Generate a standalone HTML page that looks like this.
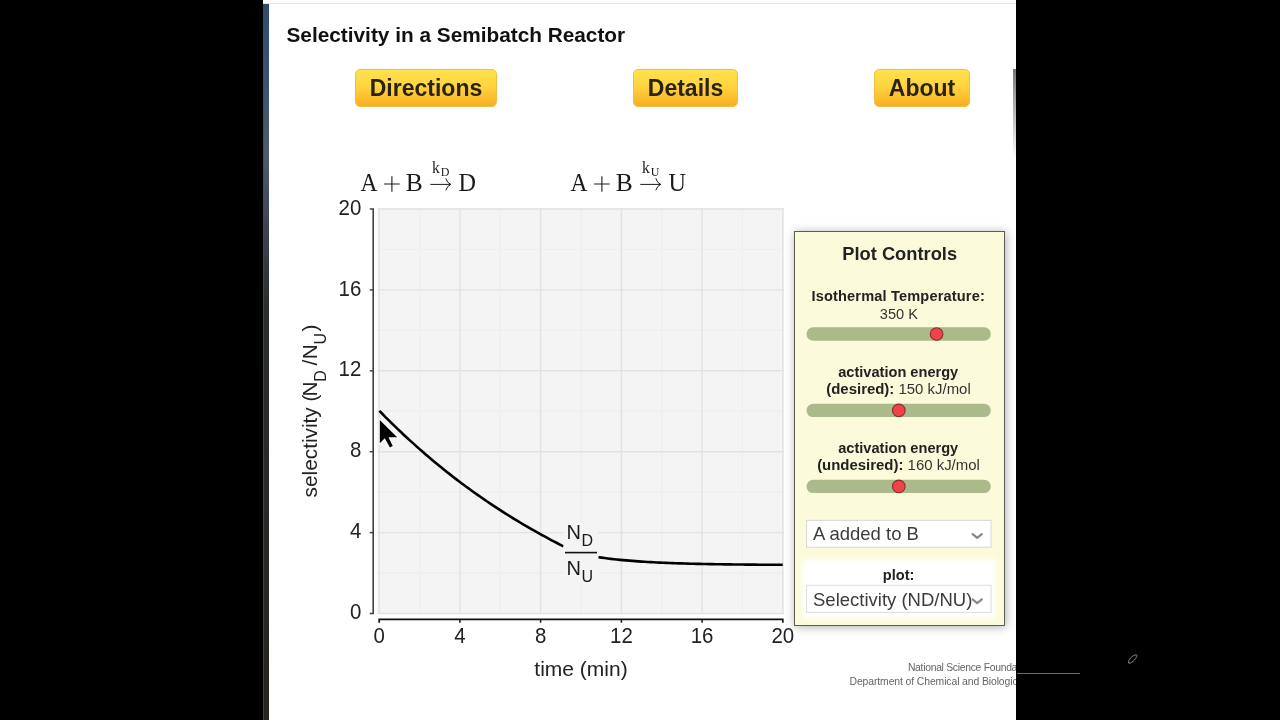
<!DOCTYPE html>
<html>
<head>
<meta charset="utf-8">
<style>
html,body{margin:0;padding:0;}
body{width:1280px;height:720px;background:#000;position:relative;overflow:hidden;font-family:"Liberation Sans",sans-serif;}
#page{position:absolute;left:269px;top:0;width:747px;height:720px;background:#fff;overflow:hidden;}
#strip{position:absolute;left:263px;top:4px;width:6px;height:716px;background:linear-gradient(#2f4b6b 0,#3d5470 90px,#4e5a6c 150px,#3e4452 220px,#2a2e2e 300px,#28241f 720px);}
#stripl{position:absolute;left:262.5px;top:4px;width:1px;height:716px;background:#3c4870;opacity:0.8;}
#topw{position:absolute;left:263px;top:0;width:753px;height:4px;background:#fff;border-bottom:1px solid #e4e4e4;box-sizing:border-box;}
#rshade{position:absolute;left:1013px;top:69px;width:3px;height:90px;background:linear-gradient(#777,rgba(255,255,255,0));}
.abs{position:absolute;white-space:nowrap;}
.title{left:286.5px;top:22.5px;font-weight:bold;font-size:20.8px;color:#111;line-height:24px;}
.btn{position:absolute;top:69px;height:38px;border-radius:5px;box-sizing:border-box;border:1px solid #f3bd45;
 background:linear-gradient(#ffe14e 0%,#fed540 45%,#f9ae22 100%);font-weight:bold;font-size:23px;color:#2a2213;text-align:center;line-height:36px;}
#panel{position:absolute;left:794px;top:231px;width:211px;height:395px;box-sizing:border-box;border:1px solid #5c5c52;background:#fbfbdc;
 box-shadow:1px 1px 9px rgba(0,0,0,0.32);}
#foot{position:absolute;left:700px;top:655px;width:316px;height:40px;overflow:hidden;}
.foot{position:absolute;font-size:10.4px;line-height:12px;color:#666;white-space:nowrap;}
#gline{position:absolute;left:1017px;top:673px;width:63px;height:1px;background:#6a6a6a;}
</style>
</head>
<body>
<div id="wrap" style="position:absolute;left:0;top:0;width:1280px;height:720px;will-change:transform;overflow:hidden;">
<div id="page"></div>
<div id="strip"></div>
<div id="stripl"></div>
<div id="topw"></div>
<div id="rshade"></div>
<div class="abs title">Selectivity in a Semibatch Reactor</div>
<div class="btn" style="left:355px;width:142px;">Directions</div>
<div class="btn" style="left:633px;width:105px;">Details</div>
<div class="btn" style="left:874px;width:96px;">About</div>
<svg style="position:absolute;left:0;top:0" width="1280" height="720" viewBox="0 0 1280 720">
<rect x="377.5" y="208" width="406.5" height="406" fill="#f4f4f4"/>
<line x1="419.6" y1="208" x2="419.6" y2="614" stroke="#eeeeee" stroke-width="1.3"/>
<line x1="500.3" y1="208" x2="500.3" y2="614" stroke="#eeeeee" stroke-width="1.3"/>
<line x1="581.0" y1="208" x2="581.0" y2="614" stroke="#eeeeee" stroke-width="1.3"/>
<line x1="661.7" y1="208" x2="661.7" y2="614" stroke="#eeeeee" stroke-width="1.3"/>
<line x1="742.4" y1="208" x2="742.4" y2="614" stroke="#eeeeee" stroke-width="1.3"/>
<line x1="377.5" y1="573.0" x2="784" y2="573.0" stroke="#eeeeee" stroke-width="1.3"/>
<line x1="377.5" y1="492.1" x2="784" y2="492.1" stroke="#eeeeee" stroke-width="1.3"/>
<line x1="377.5" y1="411.2" x2="784" y2="411.2" stroke="#eeeeee" stroke-width="1.3"/>
<line x1="377.5" y1="330.3" x2="784" y2="330.3" stroke="#eeeeee" stroke-width="1.3"/>
<line x1="377.5" y1="249.4" x2="784" y2="249.4" stroke="#eeeeee" stroke-width="1.3"/>
<line x1="379.2" y1="208" x2="379.2" y2="614" stroke="#e2e2e2" stroke-width="1.4"/>
<line x1="459.9" y1="208" x2="459.9" y2="614" stroke="#e2e2e2" stroke-width="1.4"/>
<line x1="540.6" y1="208" x2="540.6" y2="614" stroke="#e2e2e2" stroke-width="1.4"/>
<line x1="621.4" y1="208" x2="621.4" y2="614" stroke="#e2e2e2" stroke-width="1.4"/>
<line x1="702.1" y1="208" x2="702.1" y2="614" stroke="#e2e2e2" stroke-width="1.4"/>
<line x1="782.8" y1="208" x2="782.8" y2="614" stroke="#e2e2e2" stroke-width="1.4"/>
<line x1="377.5" y1="613.5" x2="784" y2="613.5" stroke="#e2e2e2" stroke-width="1.4"/>
<line x1="377.5" y1="532.6" x2="784" y2="532.6" stroke="#e2e2e2" stroke-width="1.4"/>
<line x1="377.5" y1="451.7" x2="784" y2="451.7" stroke="#e2e2e2" stroke-width="1.4"/>
<line x1="377.5" y1="370.8" x2="784" y2="370.8" stroke="#e2e2e2" stroke-width="1.4"/>
<line x1="377.5" y1="289.9" x2="784" y2="289.9" stroke="#e2e2e2" stroke-width="1.4"/>
<line x1="377.5" y1="209.0" x2="784" y2="209.0" stroke="#e2e2e2" stroke-width="1.4"/>
<path d="M369.8,209.0 H373.2 V613.5 H369.8" fill="none" stroke="#424242" stroke-width="1.6"/>
<line x1="369.8" y1="532.6" x2="373.2" y2="532.6" stroke="#424242" stroke-width="1.5"/>
<line x1="369.8" y1="451.7" x2="373.2" y2="451.7" stroke="#424242" stroke-width="1.5"/>
<line x1="369.8" y1="370.8" x2="373.2" y2="370.8" stroke="#424242" stroke-width="1.5"/>
<line x1="369.8" y1="289.9" x2="373.2" y2="289.9" stroke="#424242" stroke-width="1.5"/>
<path d="M379.2,622.7 V619.4 H782.8 V622.7" fill="none" stroke="#111" stroke-width="1.7"/>
<line x1="459.9" y1="619.4" x2="459.9" y2="622.7" stroke="#111" stroke-width="1.5"/>
<line x1="540.6" y1="619.4" x2="540.6" y2="622.7" stroke="#111" stroke-width="1.5"/>
<line x1="621.4" y1="619.4" x2="621.4" y2="622.7" stroke="#111" stroke-width="1.5"/>
<line x1="702.1" y1="619.4" x2="702.1" y2="622.7" stroke="#111" stroke-width="1.5"/>
<g font-family="Liberation Sans" font-size="21" fill="#222">
<text transform="translate(361.3,619.1) scale(0.93,1)" font-size="22" text-anchor="end">0</text>
<text transform="translate(361.3,538.2) scale(0.93,1)" font-size="22" text-anchor="end">4</text>
<text transform="translate(361.3,457.3) scale(0.93,1)" font-size="22" text-anchor="end">8</text>
<text transform="translate(361.3,376.4) scale(0.93,1)" font-size="22" text-anchor="end">12</text>
<text transform="translate(361.3,295.5) scale(0.93,1)" font-size="22" text-anchor="end">16</text>
<text transform="translate(361.3,214.6) scale(0.93,1)" font-size="22" text-anchor="end">20</text>
<text transform="translate(379.2,643.1) scale(0.93,1)" font-size="22" text-anchor="middle">0</text>
<text transform="translate(459.9,643.1) scale(0.93,1)" font-size="22" text-anchor="middle">4</text>
<text transform="translate(540.6,643.1) scale(0.93,1)" font-size="22" text-anchor="middle">8</text>
<text transform="translate(621.4,643.1) scale(0.93,1)" font-size="22" text-anchor="middle">12</text>
<text transform="translate(702.1,643.1) scale(0.93,1)" font-size="22" text-anchor="middle">16</text>
<text transform="translate(782.8,643.1) scale(0.93,1)" font-size="22" text-anchor="middle">20</text>
<text x="581" y="675.5" text-anchor="middle">time (min)</text>
<g transform="translate(317,496.8) rotate(-90)"><text x="-0.6" y="0" font-size="20.8">selectivity (</text><text x="100.4" y="0" font-size="20.8">N</text><text x="115.1" y="9.4" font-size="16">D</text><text x="131.3" y="0" font-size="20.8">/</text><text x="137.6" y="0" font-size="20.8">N</text><text x="152.4" y="9.4" font-size="16">U</text><text x="165.3" y="0" font-size="20.8">)</text></g>
</g>
<path d="M379.4,410.90 L382.5,414.03 L385.5,417.13 L388.6,420.18 L391.7,423.21 L394.7,426.19 L397.8,429.14 L400.9,432.06 L403.9,434.94 L407.0,437.79 L410.1,440.61 L413.2,443.39 L416.2,446.14 L419.3,448.86 L422.4,451.55 L425.4,454.20 L428.5,456.83 L431.6,459.42 L434.6,461.98 L437.7,464.51 L440.8,467.02 L443.8,469.49 L446.9,471.94 L450.0,474.35 L453.0,476.74 L456.1,479.10 L459.2,481.43 L462.2,483.74 L465.3,486.01 L468.4,488.27 L471.4,490.49 L474.5,492.69 L477.6,494.86 L480.7,497.01 L483.7,499.13 L486.8,501.23 L489.9,503.30 L492.9,505.35 L496.0,507.38 L499.1,509.38 L502.1,511.36 L505.2,513.31 L508.3,515.24 L511.3,517.15 L514.4,519.04 L517.5,520.90 L520.5,522.74 L523.6,524.57 L526.7,526.37 L529.7,528.14 L532.8,529.90 L535.9,531.64 L539.0,533.36 L542.0,535.05 L545.1,536.73 L548.2,538.39 L551.2,540.03 L554.3,541.64 L557.4,543.24 L560.4,544.83 L563.5,546.39 M598.5,557.22 L601.6,557.66 L604.6,558.08 L607.7,558.47 L610.8,558.85 L613.9,559.20 L616.9,559.53 L620.0,559.84 L623.1,560.13 L626.1,560.41 L629.2,560.67 L632.3,560.92 L635.4,561.15 L638.4,561.37 L641.5,561.58 L644.6,561.78 L647.6,561.96 L650.7,562.14 L653.8,562.30 L656.9,562.46 L659.9,562.61 L663.0,562.74 L666.1,562.87 L669.1,563.00 L672.2,563.11 L675.3,563.22 L678.4,563.33 L681.4,563.42 L684.5,563.52 L687.6,563.60 L690.6,563.69 L693.7,563.76 L696.8,563.84 L699.9,563.91 L702.9,563.97 L706.0,564.03 L709.1,564.09 L712.2,564.15 L715.2,564.20 L718.3,564.25 L721.4,564.29 L724.4,564.33 L727.5,564.38 L730.6,564.41 L733.7,564.45 L736.7,564.48 L739.8,564.52 L742.9,564.55 L745.9,564.58 L749.0,564.60 L752.1,564.63 L755.2,564.65 L758.2,564.68 L761.3,564.70 L764.4,564.72 L767.4,564.74 L770.5,564.76 L773.6,564.77 L776.7,564.79 L779.7,564.80 L782.8,564.82" fill="none" stroke="#000" stroke-width="2.6" stroke-linejoin="round"/>
<g font-family="Liberation Sans" fill="#1a1a1a">
<rect x="563.5" y="523" width="34.5" height="60" fill="#f4f4f4"/>
<text x="566.5" y="539" font-size="20">N</text><text x="581.5" y="546.3" font-size="16">D</text>
<rect x="565" y="551.8" width="32" height="1.6" fill="#111"/>
<text x="566.5" y="574.6" font-size="20">N</text><text x="581.5" y="581.7" font-size="16">U</text>
</g>
<path d="M379.8,420 L379.8,443.2 L384.75,438.3 L389.9,447.4 L392.8,446.1 L388.5,437.3 L397.2,437.3 Z" fill="#000" stroke="#fff" stroke-width="2" stroke-linejoin="miter" paint-order="stroke"/>
<g transform="translate(0,0)" font-family="Liberation Serif" fill="#1a1a1a">
<text transform="translate(360.6,190.9) scale(0.92,1)" font-size="25.5">A</text>
<path d="M384.1,184 H399.7 M391.9,176.3 V191.7" stroke="#1a1a1a" stroke-width="1.1" fill="none"/>
<text x="405.8" y="190.9" font-size="25.5">B</text>
<path d="M430.3,184.4 H450.3 M445.8,178.3 Q447,183 450.8,184.4 Q447,186 445.8,190.3" stroke="#1a1a1a" stroke-width="1" fill="none"/>
<text transform="translate(432,173.1) scale(0.92,1)" font-size="17">k</text>
<text x="440.8" y="175.6" font-size="12">D</text>
<text transform="translate(458.6,190.9) scale(0.95,1)" font-size="25.5">D</text>
</g>
<g transform="translate(210,0)" font-family="Liberation Serif" fill="#1a1a1a">
<text transform="translate(360.6,190.9) scale(0.92,1)" font-size="25.5">A</text>
<path d="M384.1,184 H399.7 M391.9,176.3 V191.7" stroke="#1a1a1a" stroke-width="1.1" fill="none"/>
<text x="405.8" y="190.9" font-size="25.5">B</text>
<path d="M430.3,184.4 H450.3 M445.8,178.3 Q447,183 450.8,184.4 Q447,186 445.8,190.3" stroke="#1a1a1a" stroke-width="1" fill="none"/>
<text transform="translate(432,173.1) scale(0.92,1)" font-size="17">k</text>
<text x="440.8" y="175.6" font-size="12">U</text>
<text transform="translate(458.6,190.9) scale(0.95,1)" font-size="25.5">U</text>
</g>
</svg>
<div id="panel"></div>
<svg style="position:absolute;left:0;top:0" width="1280" height="720" viewBox="0 0 1280 720">
<g font-family="Liberation Sans" fill="#222" text-anchor="middle">
<text x="899.7" y="259.9" font-size="18.3" font-weight="bold">Plot Controls</text>
<text x="898.2" y="300.6" font-size="14.6" font-weight="bold" letter-spacing="0.15">Isothermal Temperature:</text>
<text x="898.9" y="319" font-size="14.6" fill="#333">350 K</text>
<text x="898.2" y="377.1" font-size="14.6" font-weight="bold">activation energy</text>
<text x="898.5" y="394.1" font-size="14.95"><tspan font-weight="bold">(desired):</tspan><tspan fill="#333"> 150 kJ/mol</tspan></text>
<text x="898.2" y="453.1" font-size="14.6" font-weight="bold">activation energy</text>
<text x="898.5" y="470.1" font-size="14.95"><tspan font-weight="bold">(undesired):</tspan><tspan fill="#333"> 160 kJ/mol</tspan></text>
</g>
<rect x="806.5" y="327.3" width="184.3" height="13.4" rx="6.7" fill="#acb98b"/>
<circle cx="936.6" cy="334" r="6.3" fill="#f0434c" stroke="#8a2a2a" stroke-width="1.1"/>
<rect x="806.5" y="403.7" width="184.3" height="13.4" rx="6.7" fill="#acb98b"/>
<circle cx="898.8" cy="410.4" r="6.3" fill="#f0434c" stroke="#8a2a2a" stroke-width="1.1"/>
<rect x="806.5" y="479.7" width="184.3" height="13.4" rx="6.7" fill="#acb98b"/>
<circle cx="898.8" cy="486.4" r="6.3" fill="#f0434c" stroke="#8a2a2a" stroke-width="1.1"/>
<rect x="806.6" y="520.3" width="184.4" height="26.9" fill="#fff" stroke="#d6d6d0" stroke-width="1"/>
<text x="813" y="540.3" font-family="Liberation Sans" font-size="18.5" fill="#3c3c3c">A added to B</text>
<path d="M972.6,534.2 L977.2,537.9 L981.8,534.2" fill="none" stroke="#8a8a8a" stroke-width="2.3" stroke-linecap="round" stroke-linejoin="round"/>
<defs><filter id="bl" x="-10%" y="-20%" width="120%" height="140%"><feGaussianBlur stdDeviation="2"/></filter></defs>
<rect x="802.5" y="559.5" width="193" height="58.5" fill="#fff" filter="url(#bl)"/>
<rect x="805" y="562" width="188" height="53.5" fill="#fff"/>
<text x="898.6" y="579.5" font-family="Liberation Sans" font-size="14.6" font-weight="bold" fill="#222" text-anchor="middle">plot:</text>
<rect x="806.6" y="585.3" width="184.4" height="27.1" fill="#fff" stroke="#dcdcdc" stroke-width="1"/>
<text x="813" y="605.7" font-family="Liberation Sans" font-size="18.5" fill="#3c3c3c">Selectivity (ND/NU)</text>
<path d="M972.6,599.4 L977.2,603.1 L981.8,599.4" fill="none" stroke="#8a8a8a" stroke-width="2.3" stroke-linecap="round" stroke-linejoin="round"/>
</svg>
<div id="foot">
<div class="foot" style="left:207.9px;top:7.4px;letter-spacing:-0.3px;">National Science Foundation</div>
<div class="foot" style="left:149.5px;top:20.7px;letter-spacing:-0.1px;">Department of Chemical and Biological Engineering</div>
</div>
<div id="gline"></div>
<svg style="position:absolute;left:1126px;top:652px" width="14" height="14" viewBox="0 0 14 14"><path d="M2.5,11 C2,8 6,3 10.5,2.8 C12,3.5 9,9 4,11.2 Z" fill="none" stroke="#8a8a8a" stroke-width="1"/></svg>
</div>
</body>
</html>
